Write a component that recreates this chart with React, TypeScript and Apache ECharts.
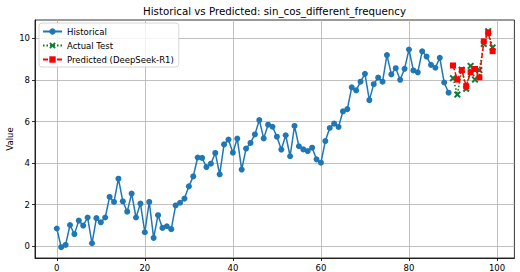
import React, { useEffect, useRef } from "react";
import * as echarts from "echarts";

const historical: number[] = [
  0.85, -0.05, 0.06, 1.02, 0.58, 1.23, 0.99, 1.38, 0.14, 1.35,
  1.15, 1.38, 2.37, 2.13, 3.25, 2.16, 1.66, 2.53, 1.38, 2.05,
  0.67, 2.13, 0.4, 1.49, 0.88, 0.96, 0.82, 1.96, 2.09, 2.29,
  2.88, 3.36, 4.27, 4.25, 3.81, 3.97, 4.49, 3.46, 4.9, 5.13,
  4.5, 5.18, 3.69, 4.7, 4.97, 5.38, 6.07, 5.19, 5.85, 5.75,
  5.27, 4.65, 5.34, 4.33, 5.79, 4.81, 4.66, 4.58, 4.74, 4.18,
  4.02, 5.06, 5.69, 5.9, 5.74, 6.49, 6.6, 7.65, 7.5, 7.92,
  8.3, 7.03, 7.8, 8.12, 7.92, 9.2, 8.27, 8.57, 8.01, 8.54,
  9.47, 8.46, 8.37, 9.38, 9.13, 8.73, 8.59, 9.07, 7.88, 7.39,
];
const testStart = 90;
const actualTest: number[] = [8.09, 7.3, 8.5, 7.58, 8.68, 8.02, 8.48, 9.74, 10.35, 9.56];
const predicted: number[] = [8.7, 8.02, 8.48, 7.7, 8.37, 8.53, 8.13, 9.86, 10.27, 9.39];
const xTicks: number[] = [0, 20, 40, 60, 80, 100];
const yTicks: number[] = [0, 2, 4, 6, 8, 10];

const FONT = "DejaVu Sans";
const X_PATH =
  "path://M0,2 L2,0 L5,3 L8,0 L10,2 L7,5 L10,8 L8,10 L5,7 L2,10 L0,8 L3,5 Z";

export default function App() {
  const ref = useRef<HTMLDivElement>(null);
  useEffect(() => {
    if (!ref.current) return;
    const chart = echarts.init(ref.current, undefined, { renderer: "svg" });
    const axisCommon = {
      type: "value" as const,
      axisLine: { show: true, onZero: false, lineStyle: { color: "#000", width: 0.8 } },
      axisTick: { show: true, inside: false, length: 3, lineStyle: { color: "#000", width: 0.8 } },
      splitLine: { show: true, lineStyle: { color: "#b0b0b0", width: 0.8 } },
      axisLabel: { color: "#000", fontFamily: FONT, fontSize: 8.5 },
    };
    chart.setOption({
      animation: false,
      backgroundColor: "#fff",
      title: {
        text: "Historical vs Predicted: sin_cos_different_frequency",
        left: 274.5,
        top: 6,
        padding: 0,
        textAlign: "center",
        textStyle: { fontFamily: FONT, fontSize: 10.25, fontWeight: "normal", color: "#000" },
      },
      legend: {
        orient: "vertical",
        left: 39,
        top: 23,
        padding: [4, 5, 3, 3],
        itemWidth: 19,
        itemHeight: 8,
        itemGap: 5,
        backgroundColor: "rgba(255,255,255,0.8)",
        borderColor: "#cccccc",
        borderWidth: 0.8,
        borderRadius: 3,
        textStyle: { fontFamily: FONT, fontSize: 8.5, color: "#000" },
        data: ["Historical", "Actual Test", "Predicted (DeepSeek-R1)"],
      },
      grid: {
        left: 35,
        right: 5.6,
        top: 20,
        bottom: 14,
        containLabel: false,
        outerBoundsMode: "none",
        show: true,
        borderColor: "#000",
        borderWidth: 0.8,
        backgroundColor: "transparent",
      },
      xAxis: {
        ...axisCommon,
        min: -4.95,
        max: 103.95,
        axisTick: { ...axisCommon.axisTick, customValues: xTicks },
        axisLabel: { ...axisCommon.axisLabel, customValues: xTicks, margin: 5 },
      },
      yAxis: {
        ...axisCommon,
        min: -0.57,
        max: 10.89,
        name: "Value",
        nameLocation: "middle",
        nameGap: 21,
        nameMoveOverlap: false,
        nameTextStyle: { fontFamily: FONT, fontSize: 8.5, color: "#000" },
        axisTick: { ...axisCommon.axisTick, customValues: yTicks },
        axisLabel: { ...axisCommon.axisLabel, customValues: yTicks, margin: 5 },
      },
      series: [
        {
          name: "Historical",
          type: "line",
          data: historical.map((v, i) => [i, v]),
          symbol: "circle",
          symbolSize: 6,
          showAllSymbol: true,
          itemStyle: { color: "#1f77b4" },
          lineStyle: { color: "#1f77b4", width: 1.5 },
          z: 2,
        },
        {
          name: "Actual Test",
          type: "line",
          data: actualTest.map((v, i) => [testStart + i, v]),
          symbol: X_PATH,
          symbolSize: 7,
          showAllSymbol: true,
          itemStyle: { color: "#107a3a" },
          lineStyle: { color: "#008000", width: 1.5, type: [1.5, 2] },
          z: 3,
        },
        {
          name: "Predicted (DeepSeek-R1)",
          type: "line",
          data: predicted.map((v, i) => [testStart + i, v]),
          symbol: "rect",
          symbolSize: 6,
          showAllSymbol: true,
          itemStyle: { color: "#ff0000" },
          lineStyle: { color: "#ff0000", width: 1.5, type: [5, 2] },
          z: 4,
        },
      ],
    });
    return () => chart.dispose();
  }, []);
  return (
    <div
      ref={ref}
      style={{ position: "absolute", left: 0, top: 0, width: 520, height: 272 }}
    />
  );
}
